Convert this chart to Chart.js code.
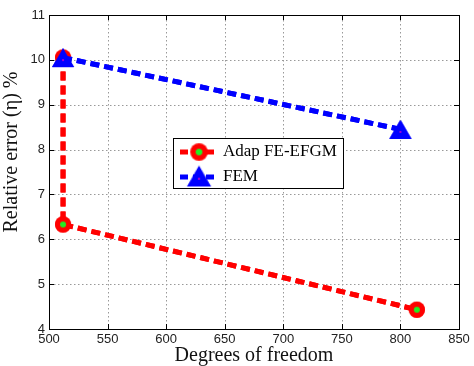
<!DOCTYPE html>
<html>
<head>
<meta charset="utf-8">
<script src="https://cdn.jsdelivr.net/npm/chart.js@4/dist/chart.umd.min.js"></script>
<style>
html,body{margin:0;padding:0;background:#fff;}
#wrap{width:474px;height:366px;}
</style>
</head>
<body>
<div id="wrap"><canvas id="c" width="474" height="366"></canvas></div>
<script>
const dofAdap = [512, 512, 814];
const errAdap = [10.05, 6.33, 4.43];
const dofFem = [512, 800];
const errFem = [10.05, 8.45];
const xTicks = [500, 550, 600, 650, 700, 750, 800, 850];
const yTicks = [4, 5, 6, 7, 8, 9, 10, 11];
const seriesNames = ['Adap FE-EFGM', 'FEM'];

function circleMarker(){
  const c = document.createElement('canvas'); c.width = 18; c.height = 18;
  const g = c.getContext('2d');
  g.fillStyle = '#ff0000'; g.beginPath(); g.arc(9,9,8,0,Math.PI*2); g.fill();
  g.fillStyle = '#22ee22'; g.beginPath(); g.arc(9,9,3,0,Math.PI*2); g.fill();
  return c;
}
function triMarker(){
  const c = document.createElement('canvas'); c.width = 24; c.height = 21;
  const g = c.getContext('2d');
  g.fillStyle = '#0000ff'; g.beginPath(); g.moveTo(12,1); g.lineTo(23,20); g.lineTo(1,20); g.closePath(); g.fill();
  g.fillStyle = '#cc00cc'; g.beginPath(); g.arc(12,13,1,0,Math.PI*2); g.fill();
  return c;
}
const cm = circleMarker(), tm = triMarker();

function drawGrid(chart){
  const ctx = chart.ctx, a = chart.chartArea;
  const xs = chart.scales.x, ys = chart.scales.y;
  ctx.save();
  ctx.strokeStyle = '#999999'; ctx.lineWidth = 1; ctx.setLineDash([1.5,2.5]);
  ctx.beginPath();
  xTicks.forEach(v => {
    const x = Math.round(xs.getPixelForValue(v)) + 0.5;
    if (x <= a.left + 2 || x >= a.right - 2) return;
    ctx.moveTo(x, a.top + 1); ctx.lineTo(x, a.bottom);
  });
  yTicks.forEach(v => {
    const y = Math.round(ys.getPixelForValue(v)) + 0.5;
    if (y <= a.top + 2 || y >= a.bottom - 2) return;
    ctx.moveTo(a.left + 1, y); ctx.lineTo(a.right, y);
  });
  ctx.stroke();
  ctx.restore();
}

const boxPlugin = {
  id: 'boxPlugin',
  afterDraw(chart){
    const ctx = chart.ctx, a = chart.chartArea;
    const xs = chart.scales.x, ys = chart.scales.y;
    drawGrid(chart);
    // redraw the series over the grid (Adap first, FEM on top)
    [1, 0].forEach(i => {
      const meta = chart.getDatasetMeta(i);
      ctx.save();
      meta.controller.draw();
      ctx.restore();
    });
    ctx.save();
    ctx.setLineDash([]);
    ctx.strokeStyle = '#000'; ctx.lineWidth = 1;
    ctx.strokeRect(Math.round(a.left)+0.5, Math.round(a.top)+0.5, Math.round(a.right-a.left), Math.round(a.bottom-a.top));
    ctx.beginPath();
    xTicks.forEach(v => {
      const x = Math.round(xs.getPixelForValue(v))+0.5;
      ctx.moveTo(x, a.bottom); ctx.lineTo(x, a.bottom-5);
      ctx.moveTo(x, a.top); ctx.lineTo(x, a.top+5);
    });
    yTicks.forEach(v => {
      const y = Math.round(ys.getPixelForValue(v))+0.5;
      ctx.moveTo(a.left, y); ctx.lineTo(a.left+5, y);
      ctx.moveTo(a.right, y); ctx.lineTo(a.right-5, y);
    });
    ctx.stroke();

    // legend
    const lx = 173, ly = 138, lw = 170, lh = 50;
    ctx.fillStyle = '#fff'; ctx.fillRect(lx, ly, lw, lh);
    ctx.strokeStyle = '#000'; ctx.lineWidth = 1;
    ctx.strokeRect(lx+0.5, ly+0.5, lw, lh);
    const rows = [
      {y: 152, color: '#ff0000', img: cm, name: seriesNames[0]},
      {y: 177, color: '#0000ff', img: tm, name: seriesNames[1]}
    ];
    rows.forEach(r => {
      ctx.strokeStyle = r.color; ctx.lineWidth = 5; ctx.setLineDash([8,5]);
      ctx.beginPath(); ctx.moveTo(180, r.y); ctx.lineTo(219, r.y); ctx.stroke();
      ctx.setLineDash([]);
      const w = r.img.width*1.1, h = r.img.height*1.1;
      ctx.drawImage(r.img, 199 - w/2, r.y - h/2 - (r.img===tm?1:0), w, h);
      ctx.fillStyle = '#000'; ctx.font = '17px "Liberation Serif", "DejaVu Serif", serif';
      ctx.textBaseline = 'middle'; ctx.textAlign = 'left';
      ctx.fillText(r.name, 223, r.y);
    });
    ctx.restore();
  }
};

const tickFont = {family: '"Liberation Sans", Arial, sans-serif', size: 13};
const titleFont = {family: '"Liberation Serif", "DejaVu Serif", serif', size: 20};

new Chart(document.getElementById('c'), {
  type: 'scatter',
  data: {
    datasets: [
      {
        label: seriesNames[1],
        data: dofFem.map((x,i)=>({x, y: errFem[i]})),
        showLine: true, borderColor: '#0000ff', borderWidth: 5, borderDash: [9,5],
        borderCapStyle: 'butt', pointStyle: tm, pointRadius: 10, order: 0
      },
      {
        label: seriesNames[0],
        data: dofAdap.map((x,i)=>({x, y: errAdap[i]})),
        showLine: true, borderColor: '#ff0000', borderWidth: 5, borderDash: [9,5],
        borderCapStyle: 'butt', pointStyle: cm, pointRadius: 9, order: 1
      }
    ]
  },
  options: {
    responsive: false, animation: false, devicePixelRatio: 1,
    layout: {padding: {top: 4, right: 11, left: 0, bottom: 0}},
    plugins: {legend: {display: false}, tooltip: {enabled: false}},
    scales: {
      x: {
        type: 'linear', min: 500, max: 850,
        afterBuildTicks: s => { s.ticks = xTicks.map(v=>({value:v})); },
        afterFit: s => { s.height = 37; },
        ticks: {font: tickFont, color: '#222', padding: 3, maxRotation: 0},
        grid: {display: false, drawTicks: false},
        border: {display: false},
        title: {display: true, text: 'Degrees of freedom', font: titleFont, color: '#111', padding: {top: 0, bottom: -2}}
      },
      y: {
        type: 'linear', min: 4, max: 11,
        afterBuildTicks: s => { s.ticks = yTicks.map(v=>({value:v})); },
        afterFit: s => { s.width = 49; },
        ticks: {font: tickFont, color: '#222', padding: 4},
        grid: {display: false, drawTicks: false},
        border: {display: false},
        title: {display: true, text: '\u2003\u2003Relative error (η) %', font: titleFont, color: '#111', padding: {top: 0, bottom: 0}}
      }
    }
  },
  plugins: [boxPlugin]
});
</script>
</body>
</html>
